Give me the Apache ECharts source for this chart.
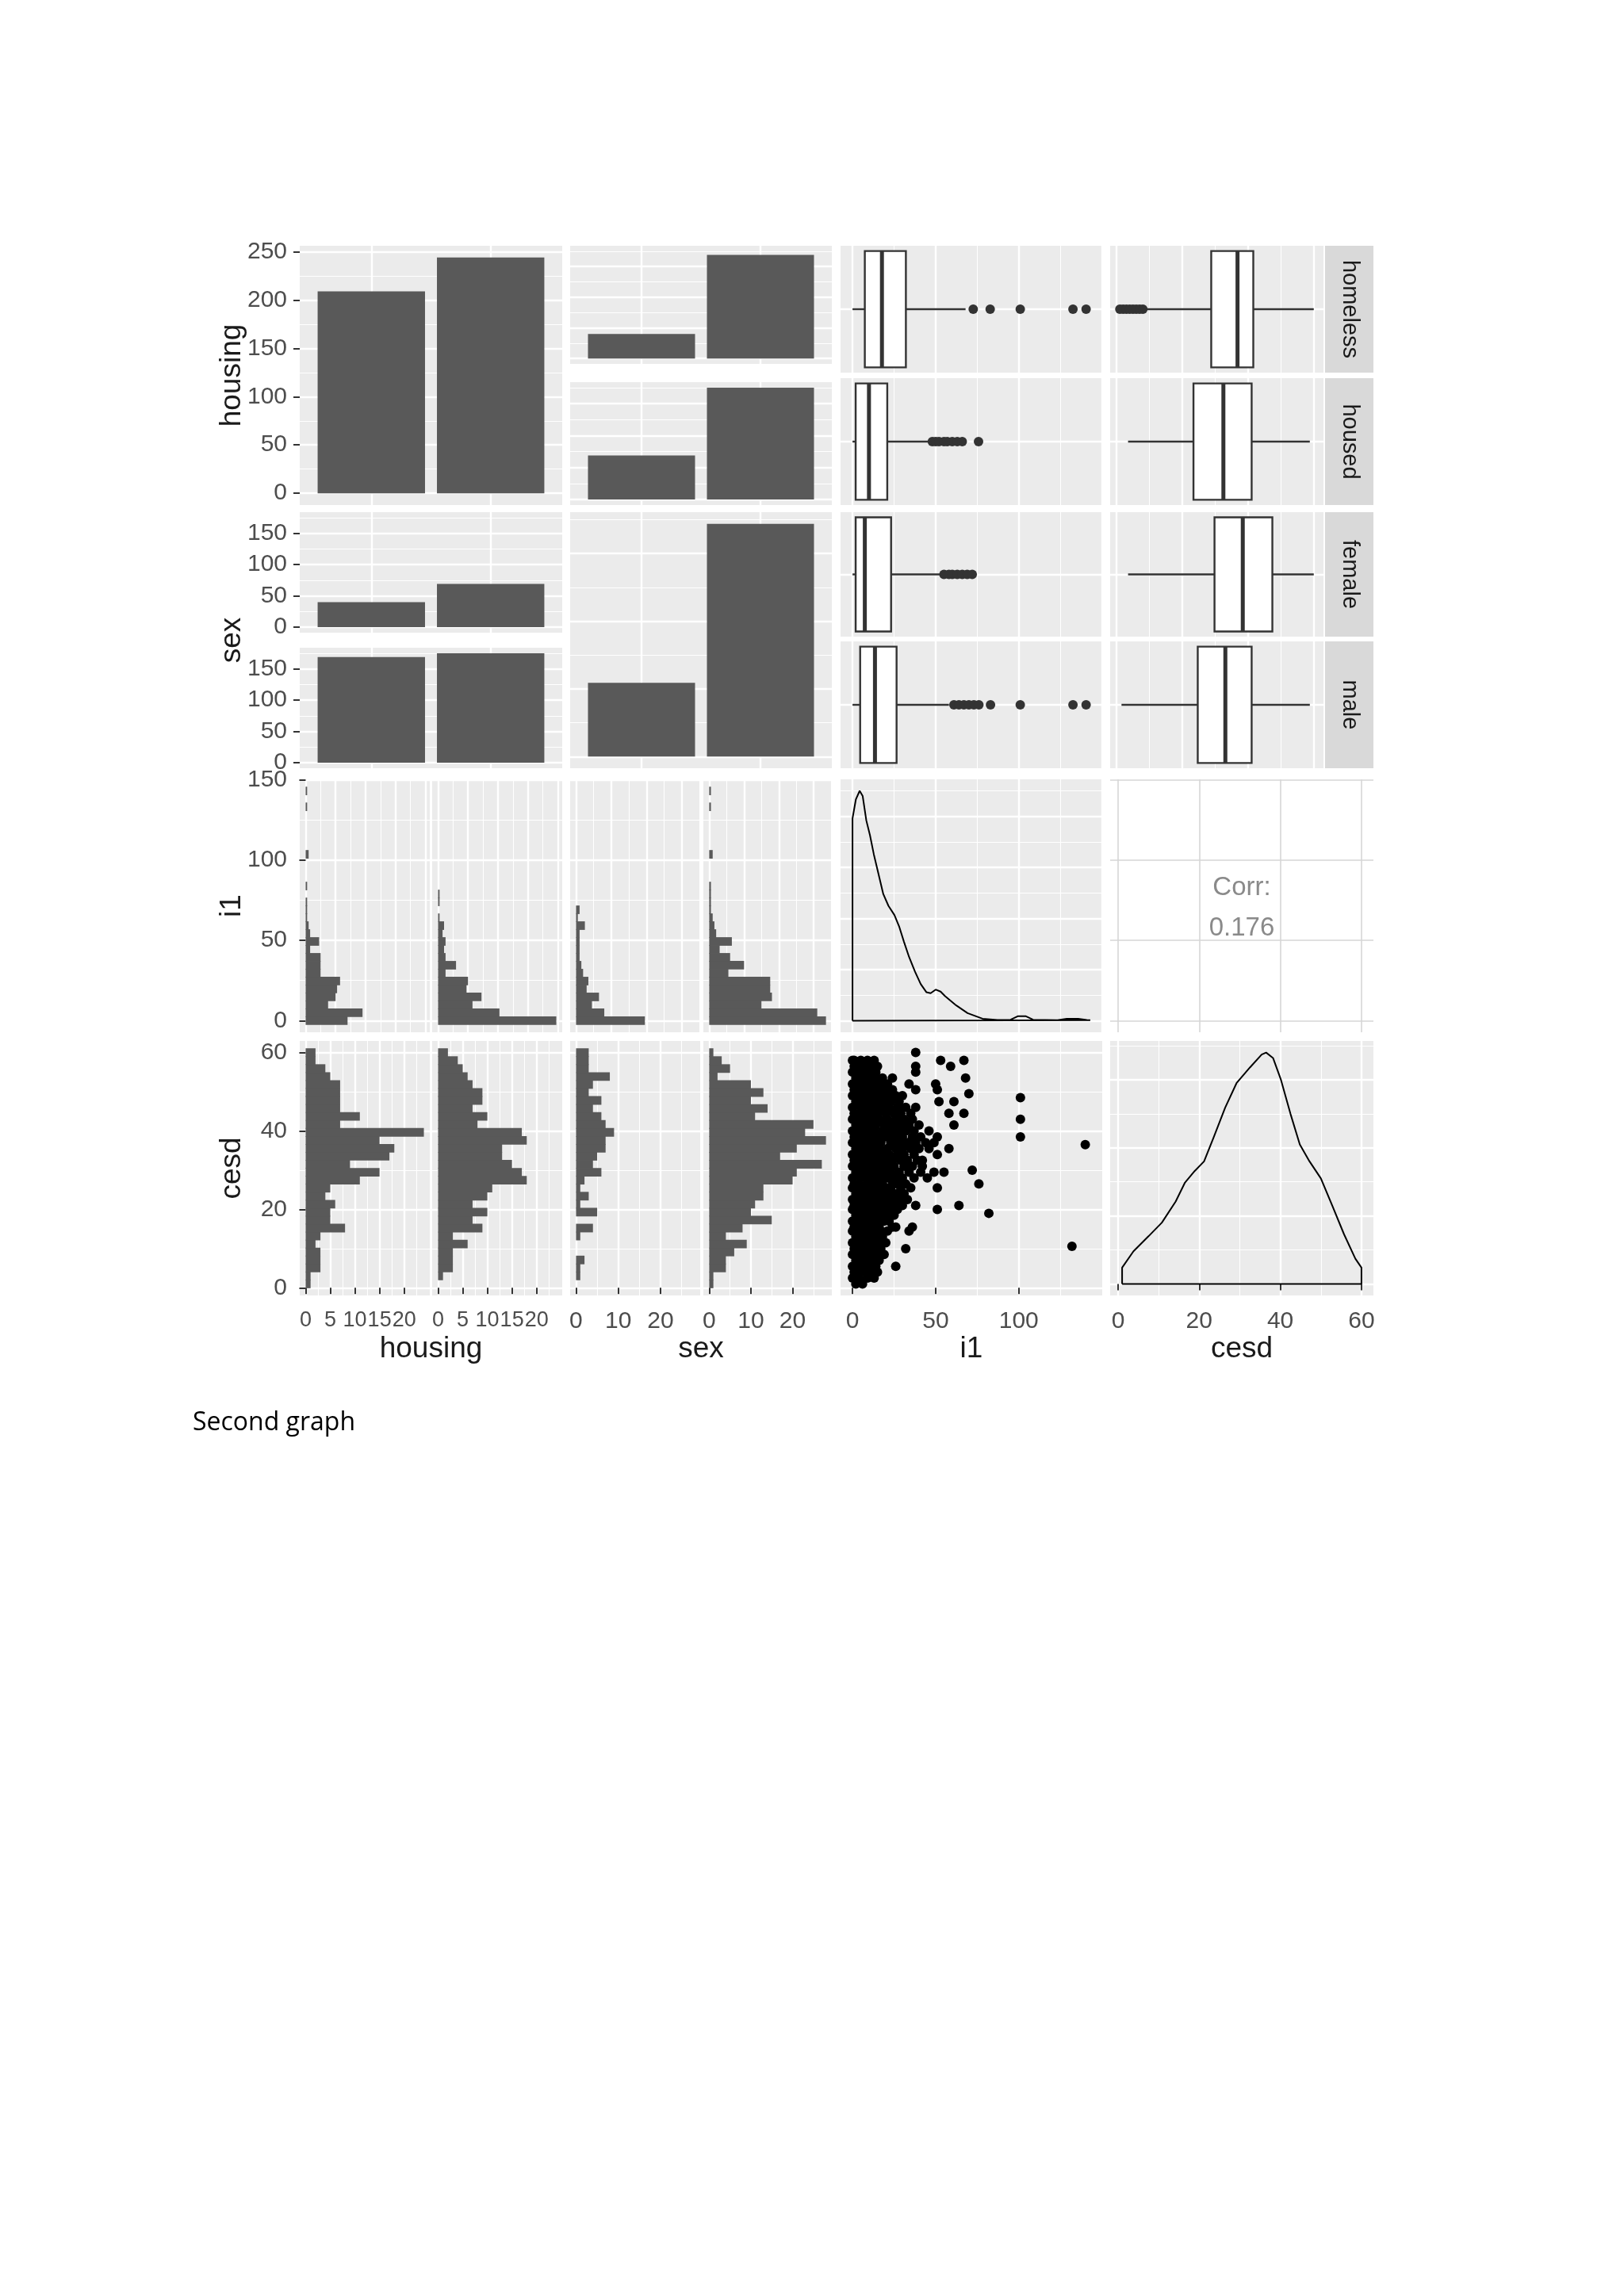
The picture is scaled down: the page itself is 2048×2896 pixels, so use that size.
<!DOCTYPE html>
<html><head><meta charset="utf-8">
<script src="https://cdn.jsdelivr.net/npm/echarts@6/dist/echarts.min.js"></script>
<style>html,body{margin:0;padding:0;background:#fff}#c{width:2048px;height:2896px}</style>
</head><body><div id="c"></div><script>
// ================= DATA =================
const housingLevels = ['homeless', 'housed'];
const sexLevels = ['female', 'male'];
const housingTotals = [209, 244];
const sexTotals = [109, 344];
const femaleByHousing = [40, 69];   // homeless, housed
const maleByHousing = [169, 175];   // homeless, housed

// histogram bins (30 bins over data range)
const i1BinStart = 0, i1BinWidth = 4.93;
const cesdBinStart = 1, cesdBinWidth = 2.034;

const i1HistHomeless = [28, 38, 15, 20, 21, 23, 10, 10, 10, 3, 9, 3, 2, 1, 1, 1, 0, 1, 0, 0, 0, 2, 0, 0, 0, 0, 0, 1, 0, 1];
const i1HistHoused   = [79, 41, 23, 29, 19, 20, 5, 12, 5, 4, 5, 3, 4, 1, 0, 1, 1, 0, 0, 0, 0, 0, 0, 0, 0, 0, 0, 0, 0, 0];
const i1HistFemale   = [39, 16, 9, 13, 6, 7, 4, 3, 2, 2, 2, 2, 5, 1, 2, 0, 0, 0, 0, 0, 0, 0, 0, 0, 0, 0, 0, 0, 0, 0];
const i1HistMale     = [67, 62, 30, 36, 35, 35, 11, 20, 12, 6, 13, 4, 3, 2, 1, 1, 1, 1, 0, 0, 0, 2, 0, 0, 0, 0, 0, 1, 0, 1];

const cesdHistHomeless = [1, 1, 3, 3, 3, 2, 3, 8, 5, 5, 6, 4, 5, 11, 15, 9, 17, 18, 15, 24, 7, 11, 7, 7, 7, 7, 5, 4, 2, 2];
const cesdHistHoused   = [0, 1, 3, 3, 3, 6, 3, 9, 7, 10, 7, 10, 11, 18, 17, 15, 13, 13, 18, 17, 8, 10, 7, 9, 9, 7, 6, 5, 4, 2];
const cesdHistFemale   = [0, 1, 1, 2, 0, 0, 1, 4, 0, 5, 1, 3, 1, 2, 6, 4, 5, 7, 7, 9, 7, 6, 4, 6, 3, 4, 8, 3, 3, 3];
const cesdHistMale     = [1, 1, 4, 4, 6, 9, 4, 8, 15, 10, 11, 13, 13, 20, 21, 27, 17, 21, 28, 23, 25, 11, 14, 10, 13, 10, 2, 5, 3, 1];

// boxplots: [lower whisker, Q1, median, Q3, upper whisker]
const i1BoxHomeless = [0, 7.4, 17.7, 32.1, 68];
const i1BoxHoused   = [0, 1.9, 9.9, 20.9, 46.5];
const i1BoxFemale   = [0, 1.9, 7.4, 23.2, 54];
const i1BoxMale     = [0, 4.6, 13.5, 26.5, 58];
const i1OutHomeless = [72.6, 82.8, 100.9, 132.6, 140.5];
const i1OutHoused   = [48, 50, 52, 55, 57, 60, 63, 66, 75.8];
const i1OutFemale   = [55, 58, 60, 63, 66, 69, 72];
const i1OutMale     = [61, 64, 67, 70, 73, 76, 83, 100.9, 132.6, 140.5];

const cesdBoxHomeless = [9.1, 28.8, 36.8, 41.6, 60];
const cesdBoxHoused   = [3.5, 23.4, 32.5, 41.1, 58.8];
const cesdBoxFemale   = [3.5, 29.8, 38.4, 47.4, 60];
const cesdBoxMale     = [1.5, 24.7, 33.1, 41.1, 58.8];
const cesdOutHomeless = [1, 2, 3, 4, 5, 6, 7, 8];

// density outlines (closed polygon)
const i1DensX = [0, 0, 2.0, 4.3, 6.1, 8.3, 10.5, 12.8, 15.5, 18.5, 21.6, 25.2, 28, 30.9, 34, 37.6, 41, 44.4, 47, 50, 53, 55.7, 62.4, 69.2, 78.2, 87.2, 95.1, 99.6, 104.1, 108.6, 123.3, 128.9, 135.7, 140.9, 143, 143, 0];
const i1DensY = [0, 0.0396, 0.0433, 0.045, 0.044, 0.0392, 0.0363, 0.0326, 0.0289, 0.0248, 0.0225, 0.0207, 0.0185, 0.0155, 0.0125, 0.0096, 0.0072, 0.0056, 0.0054, 0.0061, 0.0057, 0.0048, 0.0030, 0.0015, 0.0004, 0.00015, 0.0002, 0.0009, 0.0009, 0.0002, 0.0001, 0.0004, 0.0004, 0.00015, 0.0001, 0, 0];
const cesdDensX = [1, 1, 3.8, 7.5, 10.8, 14.2, 16.5, 18.9, 21.2, 23.6, 26.4, 29.2, 32.5, 35.4, 36.5, 38.2, 40.1, 42.5, 44.8, 47.2, 50, 52.8, 55.7, 58.5, 60, 60, 1];
const cesdDensY = [0, 0.0024, 0.0048, 0.0070, 0.0090, 0.0121, 0.0149, 0.0166, 0.0180, 0.0216, 0.0259, 0.0295, 0.0318, 0.0337, 0.0340, 0.0332, 0.0301, 0.0250, 0.0205, 0.0180, 0.0155, 0.0115, 0.0073, 0.0037, 0.0024, 0, 0];

const corrText = ['Corr:', '0.176'];

// scatter i1 vs cesd: each row = [cesd, i1, i1, ...]
const scatterRows = [
  [1, 2, 6],
  [2.5, 0, 4, 9, 13],
  [4, 1, 5, 8, 12, 15],
  [5.5, 0, 3, 7, 10, 14, 26],
  [7, 2, 5, 9, 13, 16],
  [8.5, 0, 4, 7, 11, 15, 19],
  [10, 1, 3, 6, 10, 14, 17, 32],
  [10.6, 132],
  [11.5, 0, 5, 8, 12, 16, 20],
  [13, 2, 4, 7, 11, 15, 18],
  [14.5, 0, 3, 6, 9, 13, 17, 21, 34],
  [15.5, 1, 5, 8, 12, 16, 24, 26, 36],
  [17, 0, 4, 7, 10, 14, 19, 22],
  [18.5, 2, 6, 9, 13, 17, 20, 25],
  [19, 82],
  [20, 0, 3, 7, 11, 15, 18, 23, 27, 51],
  [21, 1, 5, 9, 12, 16, 21, 25, 30, 38, 64],
  [22.5, 0, 4, 7, 10, 14, 19, 24, 28, 33],
  [24, 2, 5, 8, 12, 17, 22, 26, 31],
  [25.5, 0, 3, 6, 10, 15, 20, 23, 29, 35, 51],
  [26.5, 1, 4, 9, 13, 18, 24, 27, 32, 76],
  [28, 0, 5, 8, 11, 16, 21, 26, 30, 37, 45],
  [29.5, 2, 6, 10, 14, 19, 23, 28, 34, 41, 49, 55],
  [30, 72],
  [31, 0, 3, 7, 12, 17, 22, 25, 31, 36, 42],
  [32.5, 1, 4, 8, 11, 15, 20, 24, 29, 33, 39, 42],
  [34, 0, 5, 9, 13, 18, 22, 27, 31, 37, 51],
  [35.5, 2, 6, 10, 14, 16, 21, 26, 30, 35, 40, 46, 58],
  [36.5, 140],
  [37, 0, 3, 7, 12, 17, 23, 28, 33, 38, 44, 49],
  [38.5, 1, 4, 8, 11, 15, 20, 25, 30, 36, 41, 51, 101],
  [40, 0, 5, 9, 13, 18, 22, 27, 32, 37, 46],
  [41.5, 2, 6, 10, 14, 19, 24, 29, 34, 40, 61],
  [43, 0, 3, 7, 12, 16, 21, 26, 31, 36, 101],
  [44.5, 1, 4, 8, 11, 15, 20, 25, 29, 35, 58, 67],
  [46, 0, 5, 9, 13, 17, 22, 27, 32, 38],
  [47.5, 2, 6, 10, 14, 19, 23, 28, 52, 61],
  [48.5, 101],
  [49, 0, 3, 7, 12, 16, 21, 26, 30],
  [49.5, 70],
  [50.5, 1, 4, 8, 11, 15, 19, 24, 38, 51],
  [52, 0, 5, 9, 13, 17, 21, 34, 50],
  [53.5, 2, 6, 10, 14, 18, 24, 68],
  [55, 0, 3, 7, 11, 14, 38],
  [56.5, 1, 4, 8, 12, 15, 38, 59],
  [58, 0, 1, 5, 9, 13, 53, 67],
  [60, 38]
];

// tick labels
const housingCountTicks = [0, 5, 10, 15, 20];
const sexCountTicks = [0, 10, 20];
const i1Ticks = [0, 50, 100, 150];
const cesdTicks = [0, 20, 40, 60];
const row1Ticks = [0, 50, 100, 150, 200, 250];
const subTicks = [0, 50, 100, 150];

// ================= LAYOUT / STYLE =================
const FONT = '"Liberation Sans", Arial, sans-serif';
const BAR = '#595959';
const BG = '#EBEBEB';
const C1 = [378, 709], C2 = [719, 1049], C3 = [1060, 1390], C4 = [1400, 1732], C4B = [1400, 1669], STRIP = [1671, 1732];
const C1A = [378, 542], C1B = [545, 709], C2A = [719, 883], C2B = [887, 1049];
const R1 = [310, 637], R2 = [646, 969], R3 = [983, 1302], R4 = [1313, 1634];
const R1A2 = [310, 459], R1B2 = [482, 637], R1A = [310, 470], R1B = [477, 637];
const R2A1 = [646, 798], R2B1 = [817, 969], R2A = [646, 803], R2B = [809, 969];

const X_DISC = [0.4, 2.6], Y_DISC = [0.4, 1.6];
const I1R = [-7.2, 150.2], CESDR = [-1.95, 62.95];

const option = { animation: false, backgroundColor: '#ffffff', grid: [], xAxis: [], yAxis: [], series: [], graphic: [] };

function axis(gi, r, o, pos) {
  const major = (o.major || []).slice();
  const labels = !!o.labels;
  return {
    type: 'value', gridIndex: gi, position: pos, min: r[0], max: r[1], splitNumber: o.split || 5,
    axisLine: { show: false },
    axisTick: { show: labels, length: 8, lineStyle: { color: '#333333', width: 2 }, customValues: major.slice() },
    axisLabel: { show: labels, color: '#4D4D4D', fontSize: o.fontSize || 30, fontFamily: FONT, margin: pos === 'bottom' ? 18 : 16,
      customValues: major.slice(), hideOverlap: false, showMinLabel: true, showMaxLabel: true },
    splitLine: { show: true, customValues: major.slice(), lineStyle: { color: o.gridColor || '#ffffff', width: o.gridWidth || 2.4 } },
    minorTick: { show: false, splitNumber: 2 },
    minorSplitLine: { show: !!o.minor, lineStyle: { color: '#ffffff', width: 1.1 } }
  };
}
// panel(columnRange, rowRange, xRange, xOpts, yRange, yOpts, background)
function panel(cx, ry, xr, xo, yr, yo, bg) {
  const gi = option.grid.length;
  option.grid.push({ left: cx[0], top: ry[0], width: cx[1] - cx[0], height: ry[1] - ry[0], show: true,
    backgroundColor: bg || BG, borderWidth: 0, containLabel: false });
  option.xAxis.push(axis(gi, xr, xo || {}, 'bottom'));
  option.yAxis.push(axis(gi, yr, yo || {}, 'left'));
  return gi;
}
function vbars(gi, values) {
  option.series.push({
    type: 'custom', xAxisIndex: gi, yAxisIndex: gi, silent: true, z: 3,
    data: values.map((v, i) => [i + 1, v]), encode: { x: 0, y: 1 },
    renderItem: (p, api) => {
      const a = api.coord([api.value(0) - 0.45, api.value(1)]);
      const b = api.coord([api.value(0) + 0.45, 0]);
      return { type: 'rect', shape: { x: a[0], y: a[1], width: b[0] - a[0], height: b[1] - a[1] }, style: { fill: BAR } };
    }
  });
}
function hhist(gi, counts, start, width) {
  const data = [];
  counts.forEach((c, k) => { if (c > 0) { const ctr = start + k * width; data.push([ctr - width / 2, ctr + width / 2, c]); } });
  option.series.push({
    type: 'custom', xAxisIndex: gi, yAxisIndex: gi, silent: true, z: 3, data, encode: { x: 2, y: [0, 1] },
    renderItem: (p, api) => {
      const a = api.coord([0, api.value(1)]);
      const b = api.coord([api.value(2), api.value(0)]);
      return { type: 'rect', shape: { x: a[0], y: a[1] - 0.4, width: b[0] - a[0], height: b[1] - a[1] + 0.8 }, style: { fill: BAR } };
    }
  });
}
function boxp(gi, stats, outliers) {
  option.series.push({
    type: 'custom', xAxisIndex: gi, yAxisIndex: gi, silent: true, z: 3, data: [stats], encode: { x: [0, 1, 2, 3, 4] },
    renderItem: (p, api) => {
      const v = [0, 1, 2, 3, 4].map(i => api.value(i));
      const lo = api.coord([v[0], 1]), q1t = api.coord([v[1], 1.55]), q3b = api.coord([v[3], 0.45]);
      const q1 = api.coord([v[1], 1]), q3 = api.coord([v[3], 1]), hi = api.coord([v[4], 1]);
      const mt = api.coord([v[2], 1.55]), mb = api.coord([v[2], 0.45]);
      const ls = { stroke: '#333333', lineWidth: 2.4 };
      return { type: 'group', children: [
        { type: 'line', shape: { x1: lo[0], y1: lo[1], x2: q1[0], y2: q1[1] }, style: ls },
        { type: 'line', shape: { x1: q3[0], y1: q3[1], x2: hi[0], y2: hi[1] }, style: ls },
        { type: 'rect', shape: { x: q1t[0], y: q1t[1], width: q3b[0] - q1t[0], height: q3b[1] - q1t[1] }, style: { fill: '#ffffff', stroke: '#333333', lineWidth: 2.4 } },
        { type: 'line', shape: { x1: mt[0], y1: mt[1], x2: mb[0], y2: mb[1] }, style: { stroke: '#333333', lineWidth: 5 } }
      ] };
    }
  });
  if (outliers && outliers.length) {
    option.series.push({ type: 'scatter', xAxisIndex: gi, yAxisIndex: gi, silent: true, z: 4, symbolSize: 12,
      itemStyle: { color: '#333333', opacity: 1 }, data: outliers.map(v => [v, 1]) });
  }
}
function dens(gi, xs, ys) {
  option.series.push({ type: 'line', xAxisIndex: gi, yAxisIndex: gi, silent: true, z: 3, symbol: 'none', showSymbol: false,
    lineStyle: { color: '#000000', width: 2 }, data: xs.map((x, i) => [x, ys[i]]) });
}

const discX = { major: [1, 2] };
const discY = { major: [1] };
const i1Ax = { major: i1Ticks, minor: true, split: 3 };
const cesdAx = { major: cesdTicks, minor: true, split: 3 };

// ===== Row 1 =====
let g = panel(C1, R1, X_DISC, discX, [-12.2, 256.2], { major: row1Ticks, labels: true, minor: true, split: 5 });
vbars(g, housingTotals);
g = panel(C2, R1A2, X_DISC, discX, [-8.75, 183.75], { major: subTicks, minor: true, split: 4 });
vbars(g, [femaleByHousing[0], maleByHousing[0]]);
g = panel(C2, R1B2, X_DISC, discX, [-8.75, 183.75], { major: subTicks, minor: true, split: 4 });
vbars(g, [femaleByHousing[1], maleByHousing[1]]);
g = panel(C3, R1A, I1R, i1Ax, Y_DISC, discY);
boxp(g, i1BoxHomeless, i1OutHomeless);
g = panel(C3, R1B, I1R, i1Ax, Y_DISC, discY);
boxp(g, i1BoxHoused, i1OutHoused);
g = panel(C4B, R1A, CESDR, cesdAx, Y_DISC, discY);
boxp(g, cesdBoxHomeless, cesdOutHomeless);
g = panel(C4B, R1B, CESDR, cesdAx, Y_DISC, discY);
boxp(g, cesdBoxHoused, []);

// ===== Row 2 =====
g = panel(C1, R2A1, X_DISC, discX, [-8.75, 183.75], { major: subTicks, labels: true, minor: true, split: 4 });
vbars(g, [femaleByHousing[0], femaleByHousing[1]]);
g = panel(C1, R2B1, X_DISC, discX, [-8.75, 183.75], { major: subTicks, labels: true, minor: true, split: 4 });
vbars(g, [maleByHousing[0], maleByHousing[1]]);
g = panel(C2, R2, X_DISC, discX, [-17.2, 361.2], { major: [0, 100, 200, 300], minor: true, split: 4 });
vbars(g, sexTotals);
g = panel(C3, R2A, I1R, i1Ax, Y_DISC, discY);
boxp(g, i1BoxFemale, i1OutFemale);
g = panel(C3, R2B, I1R, i1Ax, Y_DISC, discY);
boxp(g, i1BoxMale, i1OutMale);
g = panel(C4B, R2A, CESDR, cesdAx, Y_DISC, discY);
boxp(g, cesdBoxFemale, []);
g = panel(C4B, R2B, CESDR, cesdAx, Y_DISC, discY);
boxp(g, cesdBoxMale, []);

// ===== Row 3 =====
g = panel(C1A, R3, [-3.95, 82.95], { major: [0, 20, 40, 60, 80], minor: true, split: 4 }, I1R, { major: i1Ticks, labels: true, minor: true, split: 3 });
hhist(g, i1HistHomeless, i1BinStart, i1BinWidth);
g = panel(C1B, R3, [-3.95, 82.95], { major: [0, 20, 40, 60, 80], minor: true, split: 4 }, I1R, i1Ax);
hhist(g, i1HistHoused, i1BinStart, i1BinWidth);
g = panel(C2A, R3, [-3.35, 70.35], { major: [0, 20, 40, 60], minor: true, split: 4 }, I1R, i1Ax);
hhist(g, i1HistFemale, i1BinStart, i1BinWidth);
g = panel(C2B, R3, [-3.35, 70.35], { major: [0, 20, 40, 60], minor: true, split: 4 }, I1R, i1Ax);
hhist(g, i1HistMale, i1BinStart, i1BinWidth);
g = panel(C3, R3, I1R, i1Ax, [-0.00225, 0.04725], { major: [0, 0.01, 0.02, 0.03, 0.04], minor: true, split: 5 });
dens(g, i1DensX, i1DensY);
g = panel(C4, R3, CESDR, { major: cesdTicks, gridColor: '#D6D6D6', gridWidth: 1.6 }, I1R, { major: i1Ticks, gridColor: '#D6D6D6', gridWidth: 1.6 }, '#ffffff');

// ===== Row 4 =====
g = panel(C1A, R4, [-1.2, 25.2], { major: housingCountTicks, labels: true, minor: true, split: 5, fontSize: 27 }, CESDR, { major: cesdTicks, labels: true, minor: true, split: 3 });
hhist(g, cesdHistHomeless, cesdBinStart, cesdBinWidth);
g = panel(C1B, R4, [-1.2, 25.2], { major: housingCountTicks, labels: true, minor: true, split: 5, fontSize: 27 }, CESDR, cesdAx);
hhist(g, cesdHistHoused, cesdBinStart, cesdBinWidth);
g = panel(C2A, R4, [-1.4, 29.4], { major: sexCountTicks, labels: true, minor: true, split: 3 }, CESDR, cesdAx);
hhist(g, cesdHistFemale, cesdBinStart, cesdBinWidth);
g = panel(C2B, R4, [-1.4, 29.4], { major: sexCountTicks, labels: true, minor: true, split: 3 }, CESDR, cesdAx);
hhist(g, cesdHistMale, cesdBinStart, cesdBinWidth);
g = panel(C3, R4, I1R, { major: [0, 50, 100], labels: true, minor: true, split: 3 }, CESDR, cesdAx);
const scatterData = [];
scatterRows.forEach(r => { for (let i = 1; i < r.length; i++) scatterData.push([r[i], r[0]]); });
option.series.push({ type: 'scatter', xAxisIndex: g, yAxisIndex: g, silent: true, z: 3, symbolSize: 12,
  itemStyle: { color: '#000000', opacity: 1 }, data: scatterData });
g = panel(C4, R4, CESDR, { major: cesdTicks, labels: true, minor: true, split: 3 }, [-0.0017, 0.0357], { major: [0, 0.01, 0.02, 0.03], minor: true, split: 4 });
dens(g, cesdDensX, cesdDensY);

// ===== Text / strips =====
const T = option.graphic;
function txt(text, x, y, size, color, rot, family, align) {
  T.push({ type: 'text', x, y, rotation: rot || 0, silent: true, z: 10,
    style: { text, fill: color, font: size + 'px ' + (family || FONT), textAlign: align || 'center', textVerticalAlign: 'middle' } });
}
const stripRows = [[R1A, housingLevels[0]], [R1B, housingLevels[1]], [R2A, sexLevels[0]], [R2B, sexLevels[1]]];
stripRows.forEach(([r, lab]) => {
  T.push({ type: 'rect', silent: true, z: 9, shape: { x: STRIP[0], y: r[0], width: STRIP[1] - STRIP[0], height: r[1] - r[0] }, style: { fill: '#D9D9D9' } });
  txt(lab, (STRIP[0] + STRIP[1]) / 2, (r[0] + r[1]) / 2, 29, '#1A1A1A', -Math.PI / 2);
});
const leftTitles = [['housing', R1], ['sex', R2], ['i1', R3], ['cesd', R4]];
leftTitles.forEach(([t, r]) => txt(t, 293, (r[0] + r[1]) / 2, 37, '#1A1A1A', Math.PI / 2));
const bottomTitles = [['housing', C1], ['sex', C2], ['i1', C3], ['cesd', C4]];
bottomTitles.forEach(([t, c]) => txt(t, (c[0] + c[1]) / 2, 1702, 37, '#1A1A1A', 0));
txt(corrText[0], 1566, 1120, 33, '#8A8A8A', 0);
txt(corrText[1], 1566, 1171, 33, '#8A8A8A', 0);
txt('Second graph', 243, 1795, 32, '#000000', 0, '"Open Sans", sans-serif', 'left');

const chart = echarts.init(document.getElementById('c'), null, { renderer: 'canvas', width: 2048, height: 2896 });
chart.setOption(option);
</script></body></html>
